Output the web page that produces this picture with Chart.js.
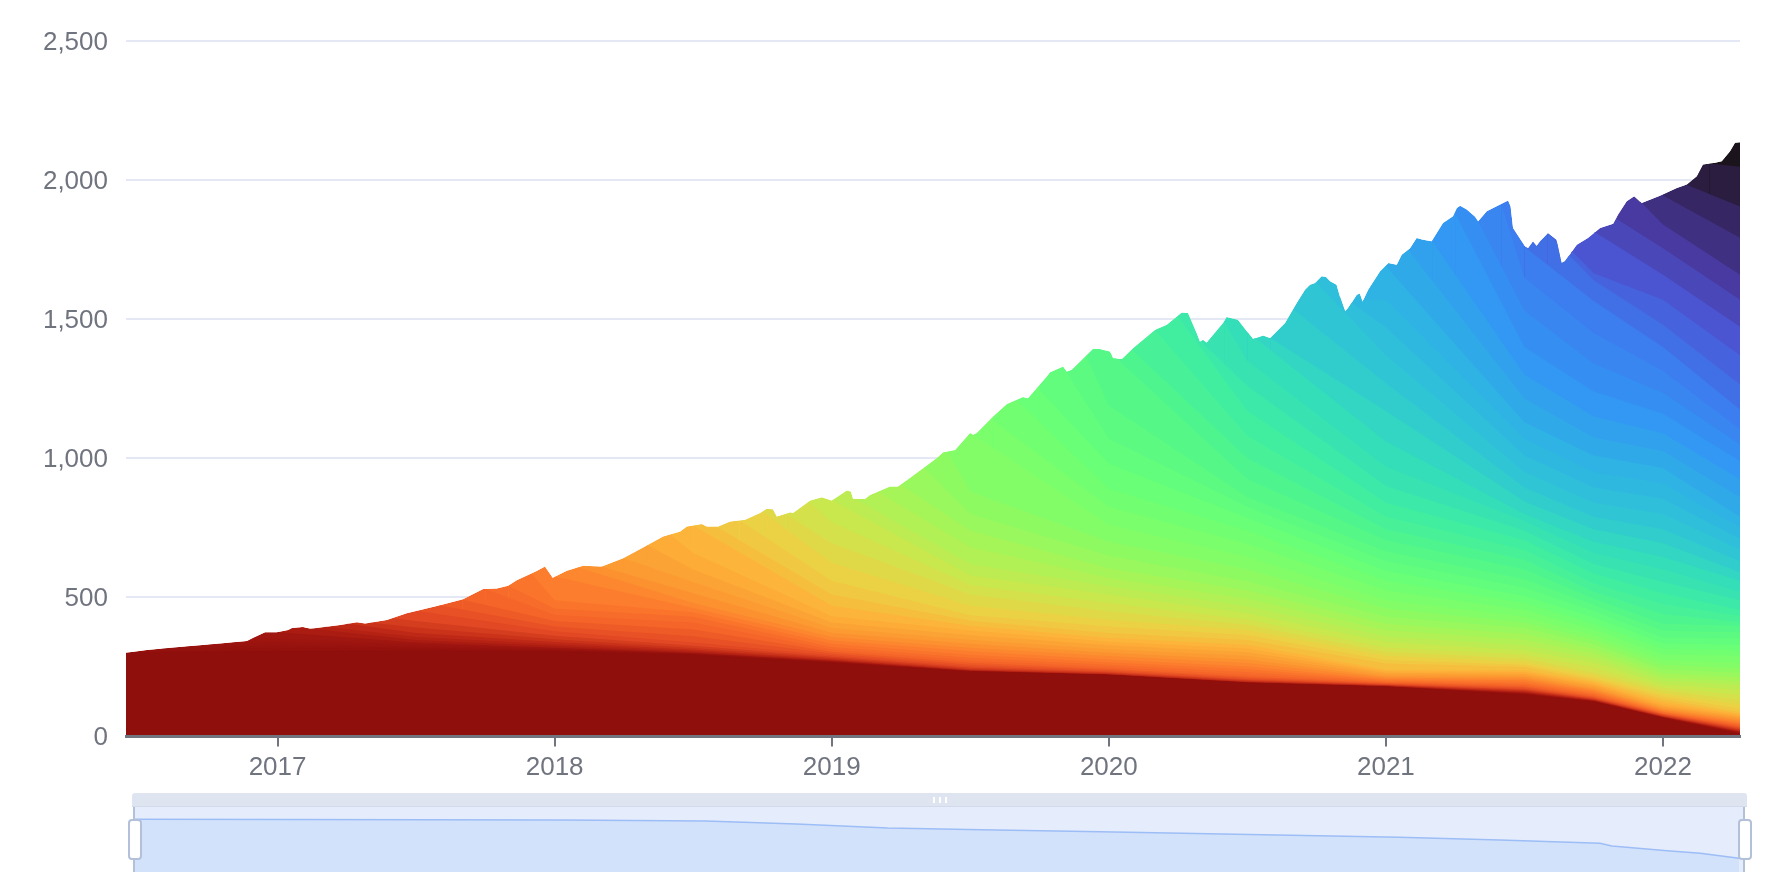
<!DOCTYPE html>
<html>
<head>
<meta charset="utf-8">
<title>Cohorts over time</title>
<script src="https://cdn.jsdelivr.net/npm/chart.js@4"></script>
<style>
  html, body { margin: 0; padding: 0; background: #fff; }
  #wrap { position: relative; width: 1784px; height: 892px; overflow: hidden; }
  #mainChart { position: absolute; left: 0; top: 0; }
  .bar { position: absolute; left: 132px; top: 793px; width: 1615px; height: 14px; background: #dfe5f0; border-radius: 3px 3px 0 0; border-bottom: 1px solid #d3dbea; box-sizing: border-box; }
  .band { position: absolute; left: 134px; top: 807px; width: 1610px; height: 65px; background: #e5edfc; }
  #overview { position: absolute; left: 134px; top: 807px; }
  .edge { position: absolute; top: 807px; width: 2px; height: 65px; background: #b3c0da; }
  .handle { position: absolute; top: 819px; width: 10px; height: 37px; background: #fff; border: 2px solid #b3c0da; border-radius: 4px; }
  .grip { position: absolute; top: 797px; width: 2px; height: 6px; background: #fff; }
</style>
</head>
<body>
<div id="wrap">
  <canvas id="mainChart" width="1784" height="892"></canvas>
  <div class="bar"></div>
  <div class="band"></div>
  <canvas id="overview" width="1610" height="65"></canvas>
  <div class="edge" style="left:133px"></div>
  <div class="edge" style="left:1743px"></div>
  <div class="handle" style="left:128px"></div>
  <div class="handle" style="left:1738px"></div>
  <div class="grip" style="left:933px"></div>
  <div class="grip" style="left:939px"></div>
  <div class="grip" style="left:945px"></div>
</div>
<script>
'use strict';

// upper edge of the whole stack
const totalYears = [2016.453,2016.528,2016.623,2016.781,2016.889,2016.912,2016.955,2016.997,2017.038,2017.052,2017.092,2017.117,2017.226,2017.286,2017.316,2017.394,2017.466,2017.586,2017.669,2017.742,2017.791,2017.832,2017.863,2017.935,2017.965,2017.993,2018.044,2018.102,2018.170,2018.247,2018.314,2018.391,2018.453,2018.477,2018.531,2018.549,2018.590,2018.633,2018.687,2018.741,2018.765,2018.788,2018.802,2018.850,2018.860,2018.922,2018.964,2019.000,2019.054,2019.069,2019.077,2019.120,2019.138,2019.210,2019.239,2019.293,2019.379,2019.402,2019.445,2019.499,2019.510,2019.523,2019.582,2019.632,2019.690,2019.708,2019.776,2019.788,2019.835,2019.848,2019.866,2019.943,2019.968,2020.004,2020.015,2020.047,2020.087,2020.167,2020.209,2020.263,2020.286,2020.317,2020.329,2020.340,2020.353,2020.412,2020.425,2020.466,2020.520,2020.557,2020.582,2020.636,2020.678,2020.708,2020.726,2020.744,2020.768,2020.784,2020.799,2020.822,2020.834,2020.853,2020.864,2020.895,2020.906,2020.916,2020.936,2020.979,2021.009,2021.039,2021.057,2021.087,2021.111,2021.134,2021.165,2021.206,2021.242,2021.256,2021.268,2021.292,2021.322,2021.333,2021.364,2021.412,2021.441,2021.450,2021.459,2021.472,2021.502,2021.513,2021.531,2021.544,2021.556,2021.585,2021.616,2021.634,2021.646,2021.689,2021.729,2021.773,2021.820,2021.838,2021.869,2021.896,2021.923,2021.989,2022.050,2022.086,2022.122,2022.144,2022.188,2022.212,2022.242,2022.260,2022.278];
const totalValues = [301,311,320,333,343,355,375,375,383,390,394,387,401,411,406,419,443,472,493,530,532,542,562,595,611,571,596,614,611,641,677,719,737,755,764,755,755,773,779,803,819,817,791,806,803,848,860,848,884,881,855,854,868,899,899,937,1001,1022,1030,1091,1085,1091,1150,1195,1220,1216,1294,1309,1330,1312,1318,1394,1393,1384,1360,1357,1396,1462,1480,1524,1522,1450,1420,1426,1416,1486,1508,1498,1429,1441,1432,1486,1558,1606,1624,1630,1654,1652,1636,1624,1582,1528,1540,1588,1592,1564,1606,1672,1702,1696,1732,1755,1792,1786,1780,1846,1870,1900,1908,1894,1868,1852,1888,1912,1927,1906,1828,1808,1762,1756,1780,1764,1780,1810,1786,1702,1708,1768,1792,1828,1843,1876,1924,1942,1918,1944,1972,1984,2014,2056,2062,2068,2104,2134,2136];

// the dates every cohort edge was read at
const sampleYears = [2017,2017.5,2018,2018.5,2019,2019.5,2020,2020.5,2021,2021.5,2021.75,2022,2022.278];

// month each cohort appears
const cohortStarts = [2016.453,2016.5,2016.583,2016.667,2016.75,2016.833,2016.917,2017,2017.083,2017.167,2017.25,2017.333,2017.417,2017.5,2017.583,2017.667,2017.75,2017.833,2017.917,2018,2018.083,2018.167,2018.25,2018.333,2018.417,2018.5,2018.583,2018.667,2018.75,2018.833,2018.917,2019,2019.083,2019.167,2019.25,2019.333,2019.417,2019.5,2019.583,2019.667,2019.75,2019.833,2019.917,2020,2020.083,2020.167,2020.25,2020.333,2020.417,2020.5,2020.583,2020.667,2020.75,2020.833,2020.917,2021,2021.083,2021.167,2021.25,2021.333,2021.417,2021.5,2021.583,2021.667,2021.75,2021.833,2021.917,2022,2022.083,2022.167];

// upper edge of each cohort: value at its start, then at the sample dates after it
const c00 = [301,305,308,305,293,264,233,221,192,179,149,125,66,8];
const c01 = [305,311,311,307,294,265,233,221,192,179,150,125,66,9];
const c02 = [315,318,315,309,295,266,234,221,192,179,151,126,66,10];
const c03 = [323,326,319,311,296,267,234,221,193,179,152,126,67,11];
const c04 = [330,334,323,313,297,268,234,221,193,180,153,126,67,12];
const c05 = [337,342,328,315,298,269,235,222,193,180,154,127,68,13];
const c06 = [355,352,333,317,299,270,235,222,194,180,155,127,68,14];
const c07 = [375,338,319,300,271,235,222,194,180,156,128,69,15];
const c08 = [392,347,325,303,272,236,223,195,181,158,129,70,17];
const c09 = [395,358,332,307,275,238,224,196,182,160,130,71,19];
const c10 = [406,372,340,312,278,240,226,198,183,163,132,72,21];
const c11 = [410,392,350,318,282,243,228,200,184,166,134,74,24];
const c12 = [425,415,362,326,287,247,231,203,186,169,136,76,27];
const c13 = [452,378,338,292,252,234,206,188,172,138,78,30];
const c14 = [472,395,360,298,258,238,210,190,176,141,80,33];
const c15 = [492,415,385,305,265,243,215,192,180,144,82,36];
const c16 = [530,437,410,313,273,250,222,195,185,148,84,40];
const c17 = [542,460,430,322,283,258,232,198,190,152,86,44];
const c18 = [585,490,447,333,294,267,242,202,196,157,89,48];
const c19 = [575,462,345,306,277,252,206,202,162,92,52];
const c20 = [608,480,358,319,289,264,211,208,167,96,57];
const c21 = [611,515,373,333,301,277,216,214,172,100,62];
const c22 = [641,555,390,348,314,290,222,220,178,105,67];
const c23 = [688,600,410,364,328,303,228,226,184,110,72];
const c24 = [725,660,432,381,341,316,234,232,190,117,77];
const c25 = [758,470,398,354,330,240,238,196,125,82];
const c26 = [755,510,416,372,347,262,250,202,135,88];
const c27 = [777,560,436,395,365,275,258,210,145,100];
const c28 = [808,625,470,420,383,290,268,219,155,115];
const c29 = [800,695,510,450,402,305,280,230,165,132];
const c30 = [845,770,545,480,421,320,295,247,175,150];
const c31 = [850,580,510,443,340,310,265,187,168];
const c32 = [855,620,540,468,360,328,282,200,185];
const c33 = [880,680,570,495,382,348,298,213,198];
const c34 = [905,740,605,525,405,368,315,227,212];
const c35 = [965,800,650,557,430,390,332,242,228];
const c36 = [1025,880,700,600,460,410,348,258,245];
const c37 = [1091,760,645,490,430,365,275,265];
const c38 = [1135,825,692,525,455,385,295,290];
const c39 = [1210,890,740,560,480,405,315,310];
const c40 = [1245,980,785,595,505,428,335,330];
const c41 = [1330,1070,825,630,535,450,355,352];
const c42 = [1370,1190,860,665,565,473,380,375];
const c43 = [1385,925,705,600,495,405,397];
const c44 = [1390,1000,745,635,520,440,412];
const c45 = [1460,1080,790,670,550,475,433];
const c46 = [1510,1170,840,705,585,515,455];
const c47 = [1420,1260,900,740,620,555,490];
const c48 = [1490,1350,970,775,660,600,520];
const c49 = [1455,1060,800,700,645,560];
const c50 = [1432,1170,845,745,695,590];
const c51 = [1535,1270,895,790,745,630];
const c52 = [1630,1370,950,840,800,672];
const c53 = [1590,1470,1010,895,855,710];
const c54 = [1570,1570,1070,950,910,750];
const c55 = [1690,1130,1010,965,790];
const c56 = [1745,1215,1075,1025,860];
const c57 = [1780,1300,1150,1090,925];
const c58 = [1880,1400,1240,1160,990];
const c59 = [1852,1530,1340,1235,1050];
const c60 = [1914,1650,1450,1315,1105];
const c61 = [1760,1565,1400,1175];
const c62 = [1810,1640,1480,1265];
const c63 = [1750,1665,1570,1370];
const c64 = [1815,1660,1473];
const c65 = [1860,1755,1570];
const c66 = [1925,1840,1660];
const c67 = [1945,1793];
const c68 = [1984,1905];
const c69 = [2060,2048];

const cohorts = [c00,c01,c02,c03,c04,c05,c06,c07,c08,c09,c10,c11,c12,c13,c14,c15,c16,c17,c18,c19,c20,c21,c22,c23,c24,c25,c26,c27,c28,c29,c30,c31,c32,c33,c34,c35,c36,c37,c38,c39,c40,c41,c42,c43,c44,c45,c46,c47,c48,c49,c50,c51,c52,c53,c54,c55,c56,c57,c58,c59,c60,c61,c62,c63,c64,c65,c66,c67,c68,c69];

// small series in the slider
const overviewYears = [2016.453,2017,2018,2018.52,2018.85,2019.18,2019.47,2020,2021.03,2021.395,2021.757,2021.8,2022,2022.12,2022.26];
const overviewValues = [299,298,295,290,273,250,241,227,197,182,163,148,121,106,78];

const yTicks = [0,500,1000,1500,2000,2500];

// colour ramp, keyed by cohort number
const rampAt = [0,7,10,13,16,19,22,25,28,31,34,37,40,43,46,49,52,55,58,61,64,66,68,70];
const rampColors = [[143,15,13],[160,22,16],[190,40,22],[225,72,35],[245,100,40],[252,125,45],[252,155,50],[252,180,58],[235,210,68],[200,232,78],[165,245,88],[130,253,103],[105,255,118],[85,248,135],[65,238,160],[52,222,185],[47,197,213],[47,178,228],[50,152,243],[60,125,240],[75,85,210],[72,58,160],[55,38,100],[28,20,28]];

function bandColor(k){
  for(let i = 1; i < rampAt.length; i++){
    if(k <= rampAt[i]){
      let f = (k - rampAt[i - 1]) / (rampAt[i] - rampAt[i - 1]);
      let a = rampColors[i - 1];
      let b = rampColors[i];
      return `rgb(${Math.round(a[0] + (b[0] - a[0]) * f)},${Math.round(a[1] + (b[1] - a[1]) * f)},${Math.round(a[2] + (b[2] - a[2]) * f)})`;
    }
  }
  return 'rgb(28,20,28)';
}

// above the newest edge the top takes the colour of the cohort about to appear
function topFill(context){
  let chart = context.chart;
  if(!chart.chartArea){
    return bandColor(0);
  }
  let xScale = chart.scales.x;
  let g = chart.ctx.createLinearGradient(xScale.left, 0, xScale.right, 0);
  let pos = function(year){
    return Math.min(1, Math.max(0, (xScale.getPixelForValue(year) - xScale.left) / xScale.width));
  };
  for(let k = 0; k < cohortStarts.length; k++){
    let to = k === cohortStarts.length - 1 ? 2022.278 : cohortStarts[k + 1];
    g.addColorStop(pos(cohortStarts[k]), bandColor(k + 1));
    g.addColorStop(pos(to), bandColor(k + 1));
  }
  return g;
}

let datasets = [];
for(let k = 0; k < cohorts.length; k++){
  let years = [cohortStarts[k]].concat(sampleYears.filter(function(y){ return y > cohortStarts[k]; }));
  let points = [];
  for(let i = 0; i < years.length; i++){
    points.push({x: years[i], y: cohorts[k][i]});
  }
  datasets.push({
    label: 'cohort ' + k,
    data: points,
    backgroundColor: bandColor(k),
    borderWidth: 0,
    pointRadius: 0,
    tension: 0,
    fill: 'origin'
  });
}
let totalPoints = [];
for(let i = 0; i < totalYears.length; i++){
  totalPoints.push({x: totalYears[i], y: totalValues[i]});
}
datasets.push({
  label: 'total',
  data: totalPoints,
  backgroundColor: topFill,
  borderWidth: 0,
  pointRadius: 0,
  tension: 0,
  fill: 'origin'
});

// nothing may stick out above the total line
const clipToTotal = {
  id: 'clipToTotal',
  beforeDatasetsDraw(chart){
    let ctx = chart.ctx;
    let pts = chart.getDatasetMeta(chart.data.datasets.length - 1).data;
    let bottom = chart.scales.y.getPixelForValue(0);
    ctx.save();
    ctx.beginPath();
    ctx.moveTo(pts[0].x, bottom);
    pts.forEach(function(p){ ctx.lineTo(p.x, p.y); });
    ctx.lineTo(pts[pts.length - 1].x, bottom);
    ctx.closePath();
    ctx.clip();
  },
  afterDatasetsDraw(chart){
    chart.ctx.restore();
  }
};

const axisGrey = '#70747f';
const tickFont = {family: '"Liberation Sans", Arial, sans-serif', size: 26};

new Chart(document.getElementById('mainChart'), {
  type: 'line',
  data: {datasets: datasets},
  plugins: [clipToTotal],
  options: {
    responsive: false,
    animation: false,
    events: [],
    layout: {padding: {top: 41, right: 44, left: 0, bottom: 0}},
    plugins: {legend: {display: false}, tooltip: {enabled: false}},
    scales: {
      x: {
        type: 'linear',
        min: 2016.453,
        max: 2022.278,
        afterFit(scale){ scale.height = 155.5; },
        grid: {drawOnChartArea: false, drawTicks: true, tickLength: 10, color: axisGrey, lineWidth: 2},
        border: {color: axisGrey, width: 3, z: 1},
        ticks: {
          stepSize: 1,
          includeBounds: false,
          autoSkip: false,
          maxRotation: 0,
          color: axisGrey,
          font: tickFont,
          padding: 6,
          callback: function(value){ return String(value); }
        }
      },
      y: {
        min: 0,
        max: 2500,
        afterFit(scale){ scale.width = 126; },
        afterBuildTicks(scale){ scale.ticks = yTicks.map(function(v){ return {value: v}; }); },
        grid: {color: '#e4e8f4', lineWidth: 2, drawTicks: false},
        border: {display: false},
        ticks: {
          color: axisGrey,
          font: tickFont,
          padding: 18,
          labelOffset: 1.5,
          callback: function(value){ return value.toLocaleString('en-US'); }
        }
      }
    }
  }
});

let overviewPoints = [];
for(let i = 0; i < overviewYears.length; i++){
  overviewPoints.push({x: overviewYears[i], y: overviewValues[i]});
}

new Chart(document.getElementById('overview'), {
  type: 'line',
  data: {datasets: [{
    data: overviewPoints,
    borderColor: '#9dbdf6',
    borderWidth: 1.5,
    backgroundColor: '#d3e2fb',
    pointRadius: 0,
    tension: 0,
    fill: 'origin'
  }]},
  options: {
    responsive: false,
    animation: false,
    events: [],
    plugins: {legend: {display: false}, tooltip: {enabled: false}},
    scales: {
      x: {type: 'linear', display: false, min: 2016.453, max: 2022.278},
      y: {display: false, min: 0, max: 369}
    }
  }
});
</script>
</body>
</html>
